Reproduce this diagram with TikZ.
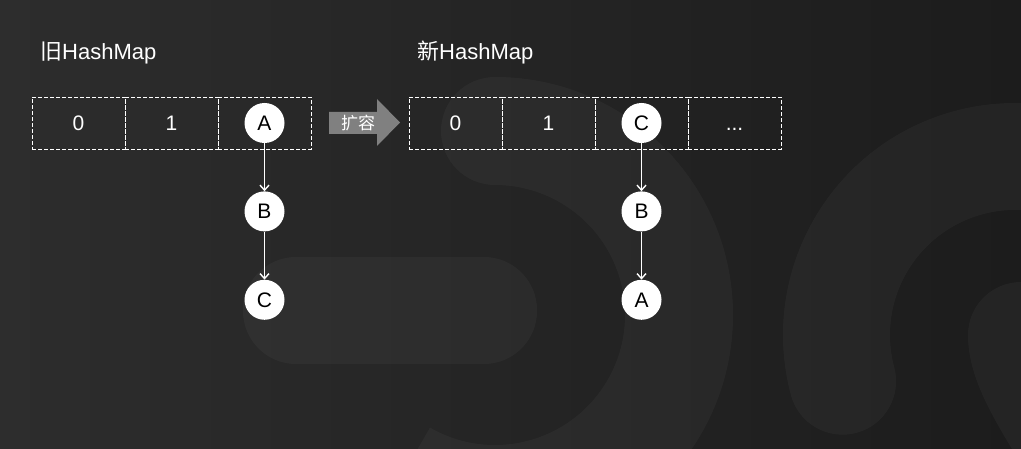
\documentclass[tikz,border=0pt]{standalone}
\usepackage{fontspec}
\setmainfont{Liberation Sans}
\newfontfamily\cjk{Noto Sans CJK SC}
\usetikzlibrary{positioning,arrows.meta,calc}
\definecolor{bgleft}{HTML}{2D2D2D}
\definecolor{bgright}{HTML}{1C1C1C}
\definecolor{blockgray}{HTML}{808080}

\begin{document}
\begin{tikzpicture}[x=1pt,y=-1pt,
  deco/.style={fill=white, fill opacity=0.035},
  title/.style={text=white, anchor=west, inner sep=0pt, font=\fontsize{22}{26}\selectfont},
  cell/.style={draw=white, line width=0.8pt, dash pattern=on 4pt off 2pt, minimum width=93pt, minimum height=52pt, inner sep=0pt, outer sep=0pt, text=white, font=\fontsize{21}{25}\selectfont},
  entry/.style={circle, fill=white, text=black, minimum size=40pt, inner sep=0pt, font=\fontsize{21}{25}\selectfont},
  link/.style={draw=white, line width=1.4pt, -{Straight Barb[length=5pt,width=9pt]}}]
\useasboundingbox (0,0) rectangle (1021,449);
\clip (0,0) rectangle (1021,449);
% background
\shade[left color=bgleft, right color=bgright] (0,0) rectangle (1021,449);
\fill[deco, rounded corners=53pt] (243,257) rectangle (537,364);
\fill[deco] (495,77) arc[start angle=-90, end angle=120, radius=238]
  -- ($(495,315)+(120:130)$) arc[start angle=120, end angle=-90, radius=130]
  arc[start angle=90, end angle=270, radius=54] -- cycle;
\fill[deco] ($(1015,335)+(165:232)$) arc[start angle=165, end angle=360, radius=232]
  -- ($(1015,335)+(0:125)$) arc[start angle=360, end angle=165, radius=125]
  arc[start angle=345, end angle=525, radius=53.5] -- cycle;
\fill[deco] (968,335) arc[start angle=180, end angle=270, radius=53] -- (1030,282) -- (1030,449) -- (1012,449)
  .. controls (985,405) and (968,370) .. (968,335);
% titles
\node[title] (oldtitle) at (40,53) {{\cjk 旧}HashMap};
\node[title] (newtitle) at (417,53) {{\cjk 新}HashMap};
% old table
\node[cell] (old0) at (78.5,123) {0};
\node[cell, right=0pt of old0] (old1) {1};
\node[cell, right=0pt of old1] (old2) {};
\node[entry] (oldA) at (old2) {A};
\node[entry, below=48pt of oldA] (oldB) {B};
\node[entry, below=48pt of oldB] (oldC) {C};
\draw[link] (oldA) -- (oldB);
\draw[link] (oldB) -- (oldC);
% resize arrow
\fill[blockgray] (329,112) -- (377,112) -- (377,99) -- (400,122.5) -- (377,146) -- (377,134) -- (329,134) -- cycle;
\node[text=white, font=\fontsize{17}{20}\selectfont\cjk] (expand) at (358,123) {扩容};
% new table
\node[cell] (new0) at (455.5,123) {0};
\node[cell, right=0pt of new0] (new1) {1};
\node[cell, right=0pt of new1] (new2) {};
\node[cell, right=0pt of new2] (new3) {\vphantom{0}...};
\node[entry] (newC) at (new2) {C};
\node[entry, below=48pt of newC] (newB) {B};
\node[entry, below=48pt of newB] (newA) {A};
\draw[link] (newC) -- (newB);
\draw[link] (newB) -- (newA);
\end{tikzpicture}
\end{document}
